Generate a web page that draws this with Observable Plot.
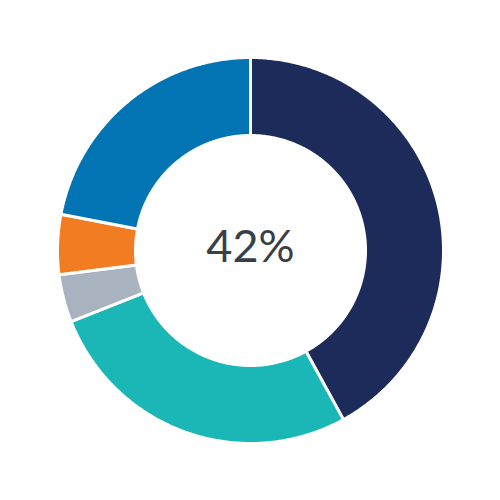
<!DOCTYPE html>
<html>
<head>
<meta charset="utf-8">
<script src="https://cdn.jsdelivr.net/npm/d3@7"></script>
<script src="https://cdn.jsdelivr.net/npm/@observablehq/plot@0.6"></script>
<style>
  html, body { margin: 0; padding: 0; background: #fff; }
</style>
</head>
<body>
<div id="chart"></div>
<script>
const categories = ["Segment A", "Segment B", "Segment C", "Segment D", "Segment E"];
const values = [42, 27, 4, 5, 22];
const colors = ["#1c2b5a", "#1bb6b6", "#a9b3c0", "#f27c22", "#0274b3"];
const centerLabel = "42%";

const outerR = 193, innerR = 115;
const arcs = d3.pie().sort(null).value(d => d)(values);
const pts = [];
arcs.forEach((a, i) => {
  const key = categories[i];
  const n = Math.max(2, Math.ceil((a.endAngle - a.startAngle) / (Math.PI / 360)));
  for (let k = 0; k <= n; k++) {
    const t = a.startAngle + (a.endAngle - a.startAngle) * k / n;
    pts.push({key, x: outerR * Math.sin(t), y: outerR * Math.cos(t)});
  }
  for (let k = n; k >= 0; k--) {
    const t = a.startAngle + (a.endAngle - a.startAngle) * k / n;
    pts.push({key, x: innerR * Math.sin(t), y: innerR * Math.cos(t)});
  }
});

const chart = Plot.plot({
  width: 500,
  height: 500,
  margin: 0,
  x: {domain: [-250, 250], axis: null},
  y: {domain: [-250, 250], axis: null},
  color: {domain: categories, range: colors},
  marks: [
    Plot.line(pts, {x: "x", y: "y", z: "key", fill: "key", stroke: "white", strokeWidth: 3, curve: "linear-closed"}),
    Plot.text([centerLabel], {x: () => 0, y: () => 0, text: d => d, fontSize: 45, fill: "#3a3f47", fontFamily: "Lato, 'Open Sans', sans-serif", fontWeight: 400, dy: -3})
  ]
});
document.getElementById("chart").appendChild(chart);
</script>
</body>
</html>
